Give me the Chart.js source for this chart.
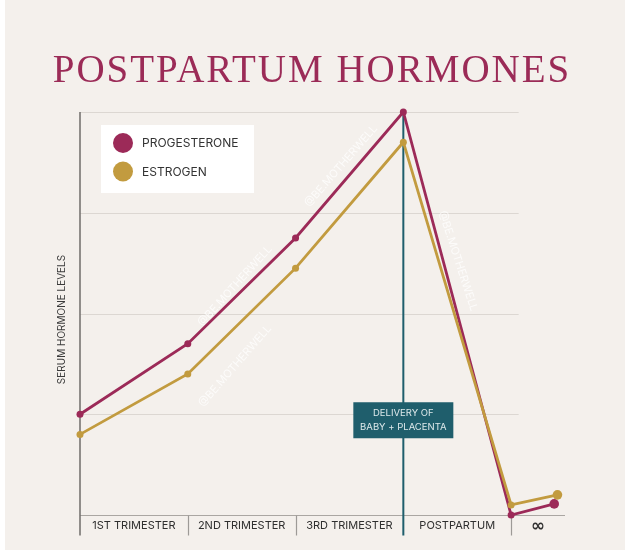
<!DOCTYPE html>
<html>
<head>
<meta charset="utf-8">
<title>Postpartum Hormones</title>
<script src="https://cdn.jsdelivr.net/npm/chart.js@4.4.1/dist/chart.umd.min.js"></script>
<style>
  html, body { margin: 0; padding: 0; background: #ffffff; }
  #wrap { width: 630px; height: 550px; }
</style>
</head>
<body>
<div id="wrap"><canvas id="chart" width="630" height="550"></canvas></div>
<script>
// Stages along the x axis; each stage spans one unit, the last one half a unit
const categories = ['1ST TRIMESTER', '2ND TRIMESTER', '3RD TRIMESTER', 'POSTPARTUM', '\u221E'];
const stageBounds = [0, 1, 2, 3, 4, 4.5];

// Relative serum levels (one grid step = one unit)
const progesteroneX = [0, 1, 2, 3, 4, 4.4];
const progesteroneY = [1.0, 1.7, 2.75, 4.0, 0.0, 0.11];
const estrogenX = [0, 1, 2, 3, 4, 4.43];
const estrogenY = [0.8, 1.4, 2.45, 3.7, 0.1, 0.2];

const yTicks = [0, 1, 2, 3, 4];
const deliveryAt = 3;
const deliveryLabel = ['DELIVERY OF', 'BABY + PLACENTA'];
const titleText = 'POSTPARTUM HORMONES';
const yTitle = 'SERUM HORMONE LEVELS';
const watermark = '@BE.MOTHERWELL';

const PINK = '#9c2a58';
const GOLD = '#c29b3f';
const TEAL = '#1f5e6c';
const SANS = 'Inter, "Noto Sans", sans-serif';

const toPoints = (xs, ys) => xs.map((x, i) => ({ x, y: ys[i] }));

const decorations = {
  id: 'decorations',
  beforeDraw(chart) {
    const { ctx, width, height } = chart;
    ctx.save();
    ctx.fillStyle = '#ffffff';
    ctx.fillRect(0, 0, width, height);
    ctx.fillStyle = '#f4f0ec';
    ctx.fillRect(5, 0, 620, height);

    // heading
    ctx.fillStyle = '#9b2b57';
    ctx.font = '39px "Liberation Serif", "DejaVu Serif", serif';
    ctx.textAlign = 'center';
    ctx.textBaseline = 'alphabetic';
    if ('letterSpacing' in ctx) ctx.letterSpacing = '2px';
    ctx.fillText(titleText, 312, 82);
    ctx.restore();
  },
  beforeDatasetsDraw(chart) {
    const { ctx, chartArea: a, scales: { x, y } } = chart;
    ctx.save();

    // horizontal grid lines
    ctx.strokeStyle = '#dcd7d2';
    ctx.lineWidth = 1;
    const gridEnd = x.getPixelForValue(4.07);
    yTicks.forEach(t => {
      if (t === 0) return;
      const py = Math.round(y.getPixelForValue(t)) + 0.5;
      ctx.beginPath();
      ctx.moveTo(a.left, py);
      ctx.lineTo(gridEnd, py);
      ctx.stroke();
    });

    // faint watermarks
    ctx.fillStyle = 'rgba(255,255,255,0.75)';
    ctx.font = '11px ' + SANS;
    ctx.textAlign = 'center';
    ctx.textBaseline = 'middle';
    [[235, 286, -48], [235, 366, -49], [341, 166, -49], [458, 261, 72]].forEach(([wx, wy, deg]) => {
      ctx.save();
      ctx.translate(wx, wy);
      ctx.rotate(deg * Math.PI / 180);
      ctx.fillText(watermark, 0, 0);
      ctx.restore();
    });

    // x axis baseline
    const base = Math.round(y.getPixelForValue(0)) + 0.5;
    ctx.strokeStyle = '#aaa6a2';
    ctx.lineWidth = 1;
    ctx.beginPath();
    ctx.moveTo(a.left, base);
    ctx.lineTo(x.getPixelForValue(stageBounds[stageBounds.length - 1]), base);
    ctx.stroke();

    // stage separators under the axis
    const sepBottom = base + 20;
    stageBounds.slice(1, -1).forEach(b => {
      if (b === deliveryAt) return;
      const px = Math.round(x.getPixelForValue(b)) + 0.5;
      ctx.strokeStyle = '#9d9a97';
      ctx.lineWidth = 1.2;
      ctx.beginPath();
      ctx.moveTo(px, base);
      ctx.lineTo(px, sepBottom);
      ctx.stroke();
    });

    // y axis line
    ctx.strokeStyle = '#6f6c6a';
    ctx.lineWidth = 1.5;
    ctx.beginPath();
    ctx.moveTo(a.left, y.getPixelForValue(4));
    ctx.lineTo(a.left, sepBottom);
    ctx.stroke();

    // delivery marker
    const dx = x.getPixelForValue(deliveryAt);
    ctx.strokeStyle = TEAL;
    ctx.lineWidth = 2;
    ctx.beginPath();
    ctx.moveTo(dx, y.getPixelForValue(4));
    ctx.lineTo(dx, sepBottom);
    ctx.stroke();
    ctx.restore();
  },
  afterDatasetsDraw(chart) {
    const { ctx, chartArea: a, scales: { x, y } } = chart;
    ctx.save();

    // delivery label box
    const dx = x.getPixelForValue(deliveryAt);
    const boxTop = y.getPixelForValue(1) - 12;
    ctx.fillStyle = TEAL;
    ctx.fillRect(dx - 50, boxTop, 100, 36);
    ctx.fillStyle = '#dde8ea';
    ctx.font = '9.5px ' + SANS;
    ctx.textAlign = 'center';
    ctx.textBaseline = 'middle';
    ctx.fillText(deliveryLabel[0], dx, boxTop + 11);
    ctx.fillText(deliveryLabel[1], dx, boxTop + 25);

    // stage labels
    const base = y.getPixelForValue(0);
    ctx.fillStyle = '#2f2f2f';
    ctx.font = '11px ' + SANS;
    categories.forEach((c, i) => {
      const cx = x.getPixelForValue((stageBounds[i] + stageBounds[i + 1]) / 2);
      if (c === '\u221E') {
        ctx.font = 'bold 17px "DejaVu Sans", sans-serif';
        ctx.fillText(c, cx, base + 12);
        ctx.font = '11px ' + SANS;
      } else {
        ctx.fillText(c, cx, base + 11);
      }
    });

    // y axis title
    ctx.save();
    ctx.translate(62, (a.top + a.bottom) / 2 + 6);
    ctx.rotate(-Math.PI / 2);
    ctx.fillStyle = '#3a3a3a';
    ctx.font = '10px ' + SANS;
    ctx.fillText(yTitle, 0, 0);
    ctx.restore();

    // legend
    ctx.fillStyle = '#ffffff';
    ctx.fillRect(101, 125, 153, 68);
    ctx.textAlign = 'left';
    ctx.font = '12px ' + SANS;
    chart.data.datasets.forEach((ds, i) => {
      const ly = 143 + i * 28.5;
      ctx.fillStyle = ds.borderColor;
      ctx.beginPath();
      ctx.arc(123, ly, 10, 0, Math.PI * 2);
      ctx.fill();
      ctx.fillStyle = '#333333';
      ctx.fillText(ds.label, 142, ly + 0.5);
    });
    ctx.restore();
  }
};

new Chart(document.getElementById('chart'), {
  type: 'line',
  data: {
    datasets: [
      {
        label: 'PROGESTERONE',
        data: toPoints(progesteroneX, progesteroneY),
        borderColor: PINK,
        backgroundColor: PINK,
        borderWidth: 2.8,
        pointRadius: [3.5, 3.5, 3.5, 3.5, 3.5, 4.8],
        pointBorderWidth: 0,
        tension: 0,
        clip: false,
        order: 1
      },
      {
        label: 'ESTROGEN',
        data: toPoints(estrogenX, estrogenY),
        borderColor: GOLD,
        backgroundColor: GOLD,
        borderWidth: 2.8,
        pointRadius: [3.5, 3.5, 3.5, 3.5, 3.5, 4.8],
        pointBorderWidth: 0,
        tension: 0,
        clip: false,
        order: 0
      }
    ]
  },
  options: {
    responsive: false,
    devicePixelRatio: 1,
    animation: false,
    layout: { padding: { left: 80, top: 112, right: 65, bottom: 35 } },
    scales: {
      x: { type: 'linear', min: 0, max: 4.5, display: false },
      y: { type: 'linear', min: 0, max: 4, display: false }
    },
    plugins: {
      legend: { display: false },
      tooltip: { enabled: false }
    }
  },
  plugins: [decorations]
});
</script>
</body>
</html>
